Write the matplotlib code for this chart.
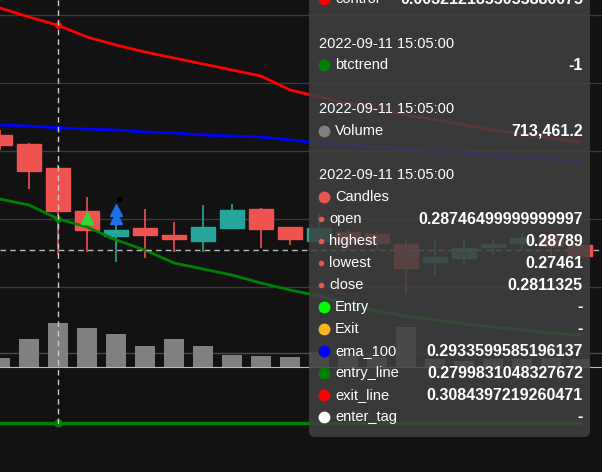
import matplotlib
matplotlib.use("Agg")
import matplotlib.pyplot as plt
from matplotlib.patches import Rectangle, FancyBboxPatch
import numpy as np

opens  = [0.29231,0.29099,0.28746,0.28114,0.27746,0.27864,0.27761,0.27673,0.27864,0.28143,0.27879,0.27673,0.27805,0.27776,0.27629,0.27364,0.27423,0.27585,0.27644,0.27746,0.27614]
highs  = [0.29305,0.29110,0.28789,0.28320,0.28085,0.28143,0.27952,0.28202,0.28217,0.28158,0.27885,0.28070,0.27835,0.27805,0.27688,0.27688,0.27717,0.27702,0.27791,0.27750,0.27620]
lows   = [0.29011,0.28437,0.27461,0.27511,0.27364,0.27423,0.27511,0.27511,0.27860,0.27570,0.27614,0.27614,0.27541,0.27541,0.26894,0.27158,0.27320,0.27482,0.27541,0.27423,0.27364]
closes = [0.29084,0.28702,0.28113,0.27835,0.27835,0.27761,0.27702,0.27879,0.28129,0.27849,0.27702,0.27864,0.27658,0.27644,0.27276,0.27438,0.27570,0.27629,0.27717,0.27599,0.27452]
volumes = [146e3,454e3,713461.2,632e3,535e3,341e3,454e3,341e3,195e3,178e3,162e3,243e3,227e3,162e3,649e3,130e3,97e3,130e3,130e3,146e3,130e3]
exit_line = [0.31098,0.30966,0.30844,0.30672,0.30554,0.30451,0.30363,0.30275,0.30187,0.30098,0.29893,0.29790,0.29702,0.29613,0.29525,0.29452,0.29378,0.29305,0.29246,0.29187,0.29128]
ema_100 = [0.29378,0.29363,0.29336,0.29319,0.29305,0.29275,0.29261,0.29231,0.29216,0.29202,0.29158,0.29114,0.29084,0.29055,0.29025,0.28996,0.28967,0.28937,0.28908,0.28878,0.28849]
entry_line = [0.28290,0.28202,0.27998,0.27879,0.27688,0.27541,0.27350,0.27261,0.27173,0.27056,0.26953,0.26864,0.26747,0.26644,0.26570,0.26512,0.26453,0.26409,0.26365,0.26321,0.26291]
btctrend = [-1]*21
entry_idx, entry_price = 3, 0.28011
cross_idx, cross_price = 2, 0.27541

BG = '#121212'
W, H = 602, 472
fig = plt.figure(figsize=(6.02, 4.72), dpi=100, facecolor=BG)
xl = (0, W / 29)
x = np.arange(len(opens))

def fax(top, bottom):
    a = fig.add_axes([0, 1 - bottom / H, 1, (bottom - top) / H])
    a.set_facecolor('none'); a.set_xlim(*xl)
    for s in a.spines.values(): s.set_visible(False)
    a.set_xticks([]); a.set_yticks([])
    return a

ax = fax(0, H)
ax.set_facecolor(BG)
ax.set_ylim(0.28746 - 304 * 0.000147, 0.28746 + 168 * 0.000147)
for g in [0.27, 0.28, 0.29, 0.30, 0.31]:
    ax.axhline(g, color='#3a3a40', lw=1, zorder=0)
up, dn = '#26a69a', '#ef5350'
for i in x:
    c = up if closes[i] >= opens[i] else dn
    ax.vlines(i, lows[i], highs[i], color=c, lw=1.2, zorder=2)
    lo, hi = min(opens[i], closes[i]), max(opens[i], closes[i])
    ax.add_patch(Rectangle((i - 0.4, lo), 0.8, max(hi - lo, 0.00004), color=c, zorder=3))
ax.plot(x, exit_line, color='#ff0000', lw=2, zorder=4)
ax.plot(x, ema_100, color='#0000ff', lw=2, zorder=4)
ax.plot(x, entry_line, color='#008000', lw=2, zorder=4)
ax.plot([entry_idx], [entry_price], marker='^', color='#2fdb3a', ms=9, zorder=5, lw=0)
ax.plot([4, 4], [0.28011, 0.28129], marker='^', color='#1f6fe6', ms=8, lw=0, zorder=5)
ax.plot([4.1], [0.28290], marker='o', color='black', ms=3, lw=0, zorder=5)
ax.axhline(cross_price, color='#bbbbbb', lw=1, ls=(0, (4, 3)), zorder=6)
for arr, col in [(exit_line, '#ff0000'), (ema_100, '#0000ff'), (entry_line, '#008000')]:
    ax.plot([cross_idx], [arr[cross_idx]], 'o', color=col, ms=4, zorder=6)

av = fax(300, 367)
av.set_ylim(0, 67 * 16215)
av.axhline(230000, color='#4a4a52', lw=1, zorder=0)
av.bar(x, volumes, width=0.66, color='#808080', zorder=2)
av.spines['bottom'].set_visible(True); av.spines['bottom'].set_color('#bbbbbb')

ab = fax(380, 466)
ab.set_ylim(-1.5, -0.5)
ab.plot(x, btctrend, color='#008000', lw=2.5)
ab.plot([cross_idx], [-1], 'o', color='#008000', ms=5)

ao = fig.add_axes([0, 0, 1, 1]); ao.set_xlim(0, W); ao.set_ylim(H, 0); ao.axis('off')
ao.vlines(58, 0, 424, color='#cccccc', lw=1, ls=(0, (4, 3)), zorder=6)
ao.add_patch(FancyBboxPatch((309, -20), 281, 457, boxstyle='round,pad=0,rounding_size=6',
                            fc='#404040', ec='none', alpha=0.86, zorder=10))
fs = 10.5
vfs = 11.5
fam = ['Liberation Sans', 'DejaVu Sans']
rows = [
    ('dot', -1, 'control', '0.0032121855055880075', '#ff0000'),
    ('date', 44, '2022-09-11 15:05:00'),
    ('dot', 65, 'btctrend', '-1', '#008000'),
    ('date', 109, '2022-09-11 15:05:00'),
    ('dot', 131, 'Volume', '713,461.2', '#808080'),
    ('date', 175, '2022-09-11 15:05:00'),
    ('dot', 197, 'Candles', '', '#ef5350'),
    ('sm', 219, 'open', '0.28746499999999997', '#ef5350'),
    ('sm', 241, 'highest', '0.28789', '#ef5350'),
    ('sm', 263, 'lowest', '0.27461', '#ef5350'),
    ('sm', 285, 'close', '0.2811325', '#ef5350'),
    ('dot', 307, 'Entry', '-', '#00ff00'),
    ('dot', 329, 'Exit', '-', '#fbb41f'),
    ('dot', 351, 'ema_100', '0.2933599585196137', '#0000ff'),
    ('dot', 373, 'entry_line', '0.2799831048327672', '#008000'),
    ('dot', 395, 'exit_line', '0.3084397219260471', '#ff0000'),
    ('dot', 417, 'enter_tag', '-', '#ffffff'),
]
for r in rows:
    if r[0] == 'date':
        ao.text(319, r[1], r[2], color='white', fontsize=fs, family=fam, va='center', zorder=11)
        continue
    kind, y, lab, val, col = r
    if kind == 'dot':
        ao.plot([324], [y], 'o', color=col, ms=7.5, zorder=11)
        ao.text(335, y, lab, color='white', fontsize=fs, family=fam, va='center', zorder=11)
    else:
        ao.plot([321], [y], 'o', color=col, ms=3, zorder=11)
        ao.text(329, y, lab, color='white', fontsize=fs, family=fam, va='center', zorder=11)
    if val:
        ao.text(583, y, val, color='white', fontsize=vfs, family=fam, weight='bold',
                va='center', ha='right', zorder=11)

fig.savefig('out.png', dpi=100, facecolor=BG)
